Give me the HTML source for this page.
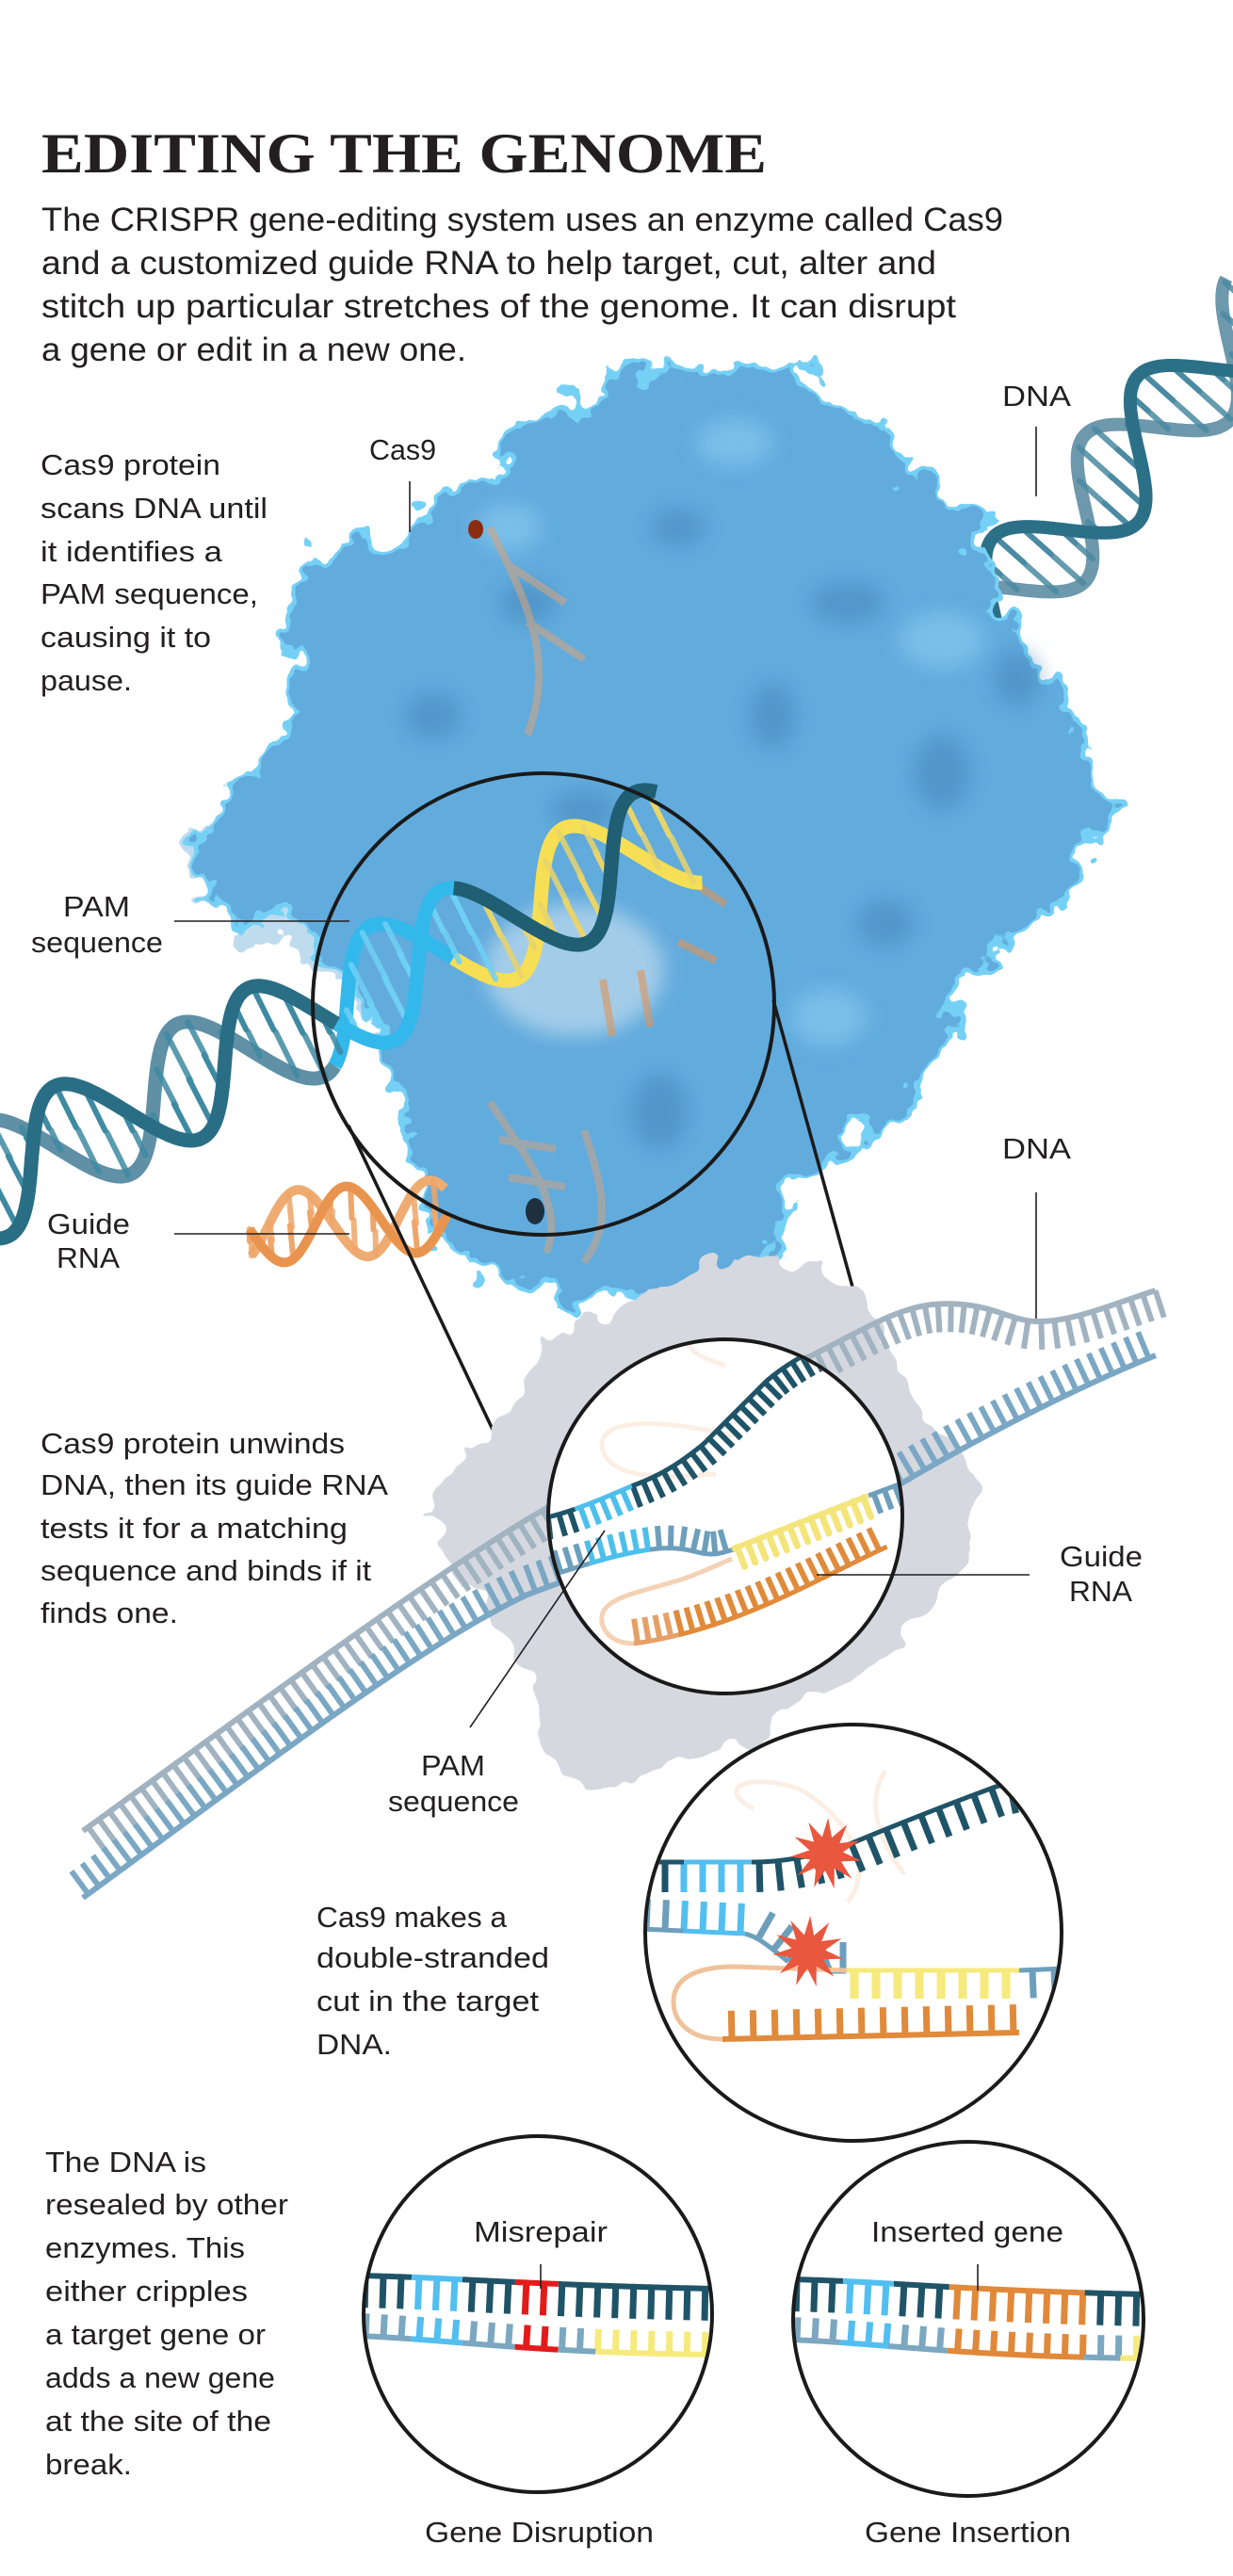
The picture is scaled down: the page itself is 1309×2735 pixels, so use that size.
<!DOCTYPE html>
<html><head><meta charset="utf-8"><style>
html,body{margin:0;padding:0;background:#fff;}
svg{display:block;}
text{font-family:"Liberation Sans",sans-serif;fill:#231f20;}
.t{font-family:"Liberation Serif",serif;font-weight:bold;}
</style></head><body>
<svg id="s" width="1309" height="2735" viewBox="0 0 1309 2735" xmlns="http://www.w3.org/2000/svg">
<defs>
<filter id="bump" x="-10%" y="-10%" width="120%" height="120%">
<feTurbulence type="fractalNoise" baseFrequency="0.025" numOctaves="3" seed="4" result="n"/>
<feDisplacementMap in="SourceGraphic" in2="n" scale="75" xChannelSelector="R" yChannelSelector="G"/>
</filter>
<filter id="bump2" x="-10%" y="-10%" width="120%" height="120%">
<feTurbulence type="fractalNoise" baseFrequency="0.03" numOctaves="2" seed="7" result="n"/>
<feDisplacementMap in="SourceGraphic" in2="n" scale="40" xChannelSelector="R" yChannelSelector="G"/>
</filter>
<filter id="blur8"><feGaussianBlur stdDeviation="10"/></filter>
<clipPath id="c2"><circle cx="770" cy="1610" r="186"/></clipPath>
<clipPath id="c3"><circle cx="906" cy="2052" r="219"/></clipPath>
<clipPath id="c4"><ellipse cx="571" cy="2457" rx="184" ry="188"/></clipPath>
<clipPath id="c5"><ellipse cx="1028" cy="2462" rx="185" ry="187"/></clipPath>
</defs>

<text class="t" x="44" y="183" font-size="60" textLength="770" lengthAdjust="spacingAndGlyphs">EDITING THE GENOME</text>
<g font-size="35">
<text x="44" y="245" textLength="1021" lengthAdjust="spacingAndGlyphs">The CRISPR gene-editing system uses an enzyme called Cas9</text>
<text x="44" y="291" textLength="950" lengthAdjust="spacingAndGlyphs">and a customized guide RNA to help target, cut, alter and</text>
<text x="44" y="337" textLength="971" lengthAdjust="spacingAndGlyphs">stitch up particular stretches of the genome. It can disrupt</text>
<text x="44" y="383" textLength="451" lengthAdjust="spacingAndGlyphs">a gene or edit in a new one.</text>
</g>

<g id="back"></g>

<g id="protein">
<path filter="url(#bump)" fill="#b3d6ec" opacity="0.85" d="M275 814 L200 877 L196 954 L334 986 L400 1081 L340 1020 L260 1000 Z"/>
<path filter="url(#bump)" fill="#62abdd" stroke="#74d0f6" stroke-width="7" d="M643 405 L718 393 L835 386 L885 418 L935 463 L977 520 L1043 546 L1060 648 L1110 699 L1144 775 L1173 852 L1144 941 L1043 1018 L1002 1082 L977 1164 L902 1209 L835 1273 L818 1337 L751 1380 L584 1380 L467 1317 L417 1145 L400 1081 L334 986 L205 950 L210 877 L275 814 L317 750 L300 648 L334 590 L417 571 L467 533 L534 482 L584 444 Z"/>
<g filter="url(#blur8)" fill="#3e7fb3" opacity="0.45">
<ellipse cx="560" cy="640" rx="30" ry="22"/><ellipse cx="720" cy="560" rx="28" ry="20"/>
<ellipse cx="900" cy="640" rx="40" ry="22"/><ellipse cx="1000" cy="820" rx="30" ry="40"/>
<ellipse cx="820" cy="760" rx="25" ry="35"/><ellipse cx="460" cy="760" rx="30" ry="25"/>
<ellipse cx="620" cy="860" rx="35" ry="20"/><ellipse cx="940" cy="980" rx="30" ry="25"/>
<ellipse cx="700" cy="1180" rx="30" ry="40"/><ellipse cx="1080" cy="720" rx="25" ry="30"/>
</g>
<g filter="url(#blur8)" fill="#8fd3f6" opacity="0.5">
<ellipse cx="780" cy="470" rx="40" ry="25"/><ellipse cx="1000" cy="680" rx="45" ry="30"/>
<ellipse cx="540" cy="560" rx="35" ry="25"/><ellipse cx="880" cy="1080" rx="40" ry="30"/>
</g>
<ellipse cx="610" cy="1030" rx="95" ry="70" fill="#cfe3f1" opacity="0.6" filter="url(#blur8)"/>
<path d="M520 560 C560 640 590 700 560 780 M540 600 L600 640 M560 660 L620 700" stroke="#d8a47a" stroke-width="8" fill="none" opacity="0.55"/>
<path d="M520 1170 C560 1230 600 1280 580 1330 M530 1210 L590 1220 M540 1250 L600 1260 M620 1200 C640 1260 650 1300 620 1340" stroke="#d8a47a" stroke-width="8" fill="none" opacity="0.5"/>
<path d="M640 1040 L650 1100 M680 1030 L690 1090 M720 1000 L760 1020 M740 940 L770 960" stroke="#e0955a" stroke-width="8" opacity="0.6"/>
<ellipse cx="505" cy="562" rx="8" ry="10" fill="#8b2b10"/>
<ellipse cx="568" cy="1286" rx="10" ry="14" fill="#1e2f3d"/>
</g>

<g id="front"></g>

<circle cx="577" cy="1066" r="245" fill="none" stroke="#1a1a1a" stroke-width="4"/>
<line x1="370" y1="1195" x2="598" y2="1676" stroke="#1a1a1a" stroke-width="3.5"/>
<line x1="821" y1="1062" x2="953" y2="1540" stroke="#1a1a1a" stroke-width="3.5"/>

<g font-size="31">
<text x="43" y="504" textLength="191" lengthAdjust="spacingAndGlyphs">Cas9 protein</text>
<text x="43" y="550" textLength="241" lengthAdjust="spacingAndGlyphs">scans DNA until</text>
<text x="43" y="596" textLength="193" lengthAdjust="spacingAndGlyphs">it identifies a</text>
<text x="43" y="641" textLength="231" lengthAdjust="spacingAndGlyphs">PAM sequence,</text>
<text x="43" y="687" textLength="181" lengthAdjust="spacingAndGlyphs">causing it to</text>
<text x="43" y="733" textLength="97" lengthAdjust="spacingAndGlyphs">pause.</text>
<text x="392" y="488" textLength="71" lengthAdjust="spacingAndGlyphs">Cas9</text>
<text x="1064" y="431" textLength="73" lengthAdjust="spacingAndGlyphs">DNA</text>
<text x="67" y="973" textLength="71" lengthAdjust="spacingAndGlyphs">PAM</text>
<text x="33" y="1011" textLength="140" lengthAdjust="spacingAndGlyphs">sequence</text>
<text x="50" y="1310" textLength="88" lengthAdjust="spacingAndGlyphs">Guide</text>
<text x="60" y="1346" textLength="67" lengthAdjust="spacingAndGlyphs">RNA</text>
<text x="1064" y="1230" textLength="73" lengthAdjust="spacingAndGlyphs">DNA</text>
</g>
<g stroke="#231f20" stroke-width="1.6">
<line x1="435" y1="511" x2="435" y2="565"/>
<line x1="1100" y1="453" x2="1100" y2="527"/>
<line x1="185" y1="978" x2="371" y2="978"/>
<line x1="185" y1="1310" x2="371" y2="1310"/>
<line x1="1100" y1="1266" x2="1100" y2="1403"/>
</g>

<path filter="url(#bump2)" fill="#d5d8df" d="M584 1418 L634 1398 L710 1362 L776 1332 L868 1342 L918 1378 L952 1454 L993 1505 L1035 1566 L1027 1648 L985 1709 L935 1760 L826 1816 L801 1852 L751 1862 L668 1893 L626 1903 L576 1862 L568 1786 L534 1735 L484 1673 L455 1602 L492 1546 L534 1505 L559 1454 Z"/>
<g id="ladder"></g>
<circle cx="770" cy="1610" r="188" fill="#fff"/>
<g id="in2" clip-path="url(#c2)"></g>
<circle cx="770" cy="1610" r="188" fill="none" stroke="#1a1a1a" stroke-width="4"/>

<g font-size="31">
<text x="43" y="1543" textLength="323" lengthAdjust="spacingAndGlyphs">Cas9 protein unwinds</text>
<text x="43" y="1587" textLength="369" lengthAdjust="spacingAndGlyphs">DNA, then its guide RNA</text>
<text x="43" y="1633" textLength="326" lengthAdjust="spacingAndGlyphs">tests it for a matching</text>
<text x="43" y="1678" textLength="351" lengthAdjust="spacingAndGlyphs">sequence and binds if it</text>
<text x="43" y="1723" textLength="146" lengthAdjust="spacingAndGlyphs">finds one.</text>
<text x="1125" y="1663" textLength="88" lengthAdjust="spacingAndGlyphs">Guide</text>
<text x="1135" y="1700" textLength="67" lengthAdjust="spacingAndGlyphs">RNA</text>
<text x="447" y="1885" textLength="68" lengthAdjust="spacingAndGlyphs">PAM</text>
<text x="412" y="1923" textLength="139" lengthAdjust="spacingAndGlyphs">sequence</text>
<text x="336" y="2046" textLength="202" lengthAdjust="spacingAndGlyphs">Cas9 makes a</text>
<text x="336" y="2089" textLength="247" lengthAdjust="spacingAndGlyphs">double-stranded</text>
<text x="336" y="2135" textLength="236" lengthAdjust="spacingAndGlyphs">cut in the target</text>
<text x="336" y="2181" textLength="80" lengthAdjust="spacingAndGlyphs">DNA.</text>
</g>
<g stroke="#231f20" stroke-width="1.6">
<line x1="867" y1="1672" x2="1093" y2="1672"/>
<line x1="642" y1="1625" x2="499" y2="1834"/>
</g>

<circle cx="906" cy="2052" r="221" fill="#fff"/>
<g id="in3" clip-path="url(#c3)"></g>
<circle cx="906" cy="2052" r="221" fill="none" stroke="#1a1a1a" stroke-width="4"/>

<g id="in4" clip-path="url(#c4)"></g>
<g id="in5" clip-path="url(#c5)"></g>
<ellipse cx="571" cy="2457" rx="185" ry="189" fill="none" stroke="#1a1a1a" stroke-width="4"/>
<ellipse cx="1028" cy="2462" rx="186" ry="188" fill="none" stroke="#1a1a1a" stroke-width="4"/>
<g font-size="31">
<text x="48" y="2306" textLength="171" lengthAdjust="spacingAndGlyphs">The DNA is</text>
<text x="48" y="2351" textLength="258" lengthAdjust="spacingAndGlyphs">resealed by other</text>
<text x="48" y="2397" textLength="212" lengthAdjust="spacingAndGlyphs">enzymes. This</text>
<text x="48" y="2443" textLength="215" lengthAdjust="spacingAndGlyphs">either cripples</text>
<text x="48" y="2489" textLength="234" lengthAdjust="spacingAndGlyphs">a target gene or</text>
<text x="48" y="2535" textLength="244" lengthAdjust="spacingAndGlyphs">adds a new gene</text>
<text x="48" y="2581" textLength="240" lengthAdjust="spacingAndGlyphs">at the site of the</text>
<text x="48" y="2627" textLength="92" lengthAdjust="spacingAndGlyphs">break.</text>
<text x="503" y="2380" textLength="142" lengthAdjust="spacingAndGlyphs">Misrepair</text>
<text x="925" y="2380" textLength="204" lengthAdjust="spacingAndGlyphs">Inserted gene</text>
<text x="451" y="2699" textLength="243" lengthAdjust="spacingAndGlyphs">Gene Disruption</text>
<text x="918" y="2699" textLength="219" lengthAdjust="spacingAndGlyphs">Gene Insertion</text>
</g>
<g stroke="#231f20" stroke-width="1.6">
<line x1="574" y1="2404" x2="574" y2="2430"/>
<line x1="1038" y1="2404" x2="1038" y2="2432"/>
</g>
</svg>
<script>
var NS="http://www.w3.org/2000/svg";
function el(p,t,a){var e=document.createElementNS(NS,t);for(var k in a)e.setAttribute(k,a[k]);p.appendChild(e);return e;}
var svg=document.getElementById('s');
function sample(d,step){var p=el(svg,'path',{d:d,fill:'none'});var L=p.getTotalLength();var pts=[];for(var s=0;s<=L;s+=step){var a=p.getPointAtLength(s),b=p.getPointAtLength(Math.min(L,s+1)),c=p.getPointAtLength(Math.max(0,s-1));var dx=b.x-c.x,dy=b.y-c.y,m=Math.hypot(dx,dy)||1;pts.push({x:a.x,y:a.y,nx:-dy/m,ny:dx/m,s:s});}svg.removeChild(p);return pts;}
function line(g,pts,colFn,w){var cur=null,col=null;for(var i=0;i<pts.length;i++){var c=colFn(pts[i]);if(c!==col){if(cur&&i>0)cur.push(pts[i].x.toFixed(1)+','+pts[i].y.toFixed(1));if(cur)el(g,'polyline',{points:cur.join(' '),fill:'none',stroke:col,'stroke-width':w,'stroke-linejoin':'round'});cur=[];col=c;}cur.push(pts[i].x.toFixed(1)+','+pts[i].y.toFixed(1));}if(cur)el(g,'polyline',{points:cur.join(' '),fill:'none',stroke:col,'stroke-width':w,'stroke-linejoin':'round'});}
function comb(g,d,colFn,len,step,dir,w,rw,opts){opts=opts||{};var pts=sample(d,1);var acc=opts.offset||step/2;for(var i=0;i<pts.length;i++){if(pts[i].s>=acc){var p=pts[i];var c=(opts.rcol||colFn)(p);if(c){var x2=p.x+p.nx*len*dir,y2=p.y+p.ny*len*dir;el(g,'line',{x1:p.x,y1:p.y,x2:x2,y2:y2,stroke:c,'stroke-width':rw,'stroke-linecap':opts.cap||'butt'});}acc+=step;}}line(g,pts,colFn,w);}
function helix(g,ax,ay,bx,by,amp,per,ph,w,c1,c2,rc,rstep){var L=Math.hypot(bx-ax,by-ay),ux=(bx-ax)/L,uy=(by-ay)/L,nx=-uy,ny=ux;var s1=[],s2=[];for(var s=0;s<=L;s+=2){var px=ax+ux*s,py=ay+uy*s;var o1=amp*Math.sin(2*Math.PI*s/per+ph),o2=amp*Math.sin(2*Math.PI*s/per+ph+2.3);s1.push({x:px+nx*o1,y:py+ny*o1,s:s});s2.push({x:px+nx*o2,y:py+ny*o2,s:s});}
line(g,s2,c2,w);var n=Math.round(rstep/2);for(var i=0;i<s1.length;i+=n){var a=s1[i],b=s2[i];var col=rc(a);el(g,'line',{x1:a.x,y1:a.y,x2:(a.x+b.x)/2-1,y2:(a.y+b.y)/2-1,stroke:col,'stroke-width':6,'stroke-linecap':'round'});el(g,'line',{x1:b.x,y1:b.y,x2:(a.x+b.x)/2+1,y2:(a.y+b.y)/2+1,stroke:col,'stroke-width':6,'stroke-linecap':'round',opacity:0.85});}line(g,s1,c1,w);}
var back=document.getElementById('back'),front=document.getElementById('front');
helix(back,990,720,1340,330,52,230,0.5,14,function(){return '#2c7088'},function(){return '#6e98ab'},function(){return '#4a8aa2'},26);
helix(front,-30,1265,720,885,60,230,1.2,15,function(p){return p.x<355?'#2a6e86':(p.x<480?'#33b8ec':'#1f5e73')},function(p){return p.x<355?'#5f90a5':(p.x<480?'#33b8ec':'#f6df55')},function(p){return p.x<355?'#3f8aa3':(p.x<480?'#6fd0f5':'#e9d46a')},26);
helix(front,265,1305,475,1290,38,140,0,10,function(){return '#e8944f'},function(){return '#eeac72'},function(){return '#eea66a'},22);

var lad=document.getElementById('ladder');
comb(lad,"M88 1944 C300 1790 450 1680 560 1613 C660 1555 760 1480 860 1440 C920 1410 950 1390 990 1385 C1050 1380 1070 1403 1102 1403 C1140 1403 1180 1385 1227 1370",function(){return '#a1b3c1'},30,14,1,6,6);
comb(lad,"M88 2015 C300 1860 450 1745 560 1693 C700 1640 850 1600 957 1575 C1050 1520 1150 1470 1227 1439",function(){return '#7aa7c4'},30,14,-1,6,6);

var g2=document.getElementById('in2');
el(g2,'path',{d:'M780 1525 C700 1505 630 1505 640 1540 C650 1570 700 1570 760 1565 M770 1450 C740 1440 720 1430 740 1415',fill:'none',stroke:'#fbefe5','stroke-width':5});
comb(g2,"M520 1690 C560 1680 580 1672 593 1670 C620 1662 660 1648 700 1644 C730 1642 740 1650 755 1650 C765 1650 770 1647 780 1645",function(p){return (p.x>625&&p.x<690)?'#4dbfec':'#6d9fbc'},24,12,-1,5,6);
el(g2,'path',{d:'M673 1745 C645 1745 635 1725 640 1712 C648 1695 680 1690 720 1678 C740 1672 760 1662 777 1655',fill:'none',stroke:'#f3d2b5','stroke-width':5});
comb(g2,"M673 1745 C780 1730 860 1680 942 1642",function(p){return p.x<720?'#e6a066':'#e08a3a'},26,12,-1,5,6,{offset:4});
comb(g2,"M777 1645 L922 1588",function(){return '#f4e57a'},22,12,1,6,7,{cap:'round'});
comb(g2,"M922 1588 L965 1572",function(){return '#6d9fbc'},22,12,1,5,6);
comb(g2,"M540 1615 L585 1610 C600 1606 620 1600 670 1578 C700 1567 720 1555 747 1533 C770 1510 790 1490 813 1467 C830 1452 850 1440 880 1425",function(p){return (p.x>610&&p.x<670)?'#4dbfec':'#1f5468'},24,12,1,5,6);

var g3=document.getElementById('in3');
el(g3,'path',{d:'M940 1880 C920 1910 930 1950 960 1990 M800 1920 C760 1900 790 1880 850 1900 C900 1930 930 1980 900 2020',fill:'none',stroke:'#fbefe5','stroke-width':5});
comb(g3,"M680 1977 L798 1977 C830 1977 857 1972 897 1960 C940 1942 1000 1918 1057 1897 L1090 1890",function(p){return (p.x>725&&p.x<798)?'#52bff0':'#1f5468'},32,20,1,5,7,{offset:6});
comb(g3,"M680 2048 L790 2053 C805 2056 817 2067 837 2083",function(p){return (p.x>725&&p.x<790)?'#52bff0':'#6d9fbc'},32,20,-1,5,7,{offset:6});
el(g3,'path',{d:'M867 2067 L883 2093 L898 2093',fill:'none',stroke:'#6d9fbc','stroke-width':5});
el(g3,'line',{x1:872,y1:2066,x2:880,y2:2093,stroke:'#6d9fbc','stroke-width':7});
el(g3,'line',{x1:895,y1:2062,x2:895,y2:2093,stroke:'#6d9fbc','stroke-width':7});
el(g3,'path',{d:'M767 2165 C730 2165 715 2145 715 2125 C715 2100 740 2088 780 2088 L899 2092',fill:'none',stroke:'#f0c29b','stroke-width':5});
comb(g3,"M767 2165 L1082 2158",function(){return '#e08a3a'},30,23,-1,6,7,{offset:10});
comb(g3,"M899 2092 L1082 2092",function(){return '#f6ea7c'},30,23,1,5,9,{offset:8});
comb(g3,"M1082 2092 L1130 2090",function(){return '#6d9fbc'},30,23,1,5,7,{offset:14});
function star(g,cx,cy,r1,r2,n){var p=[];for(var i=0;i<2*n;i++){var r=i%2?r2:r1,a=Math.PI*i/n+0.2;p.push((cx+r*Math.cos(a)).toFixed(1)+','+(cy+r*Math.sin(a)).toFixed(1));}el(g,'polygon',{points:p.join(' '),fill:'#e8573e'});}
star(g3,877,1968,38,18,11);star(g3,858,2072,38,18,11);

var g4=document.getElementById('in4');
comb(g4,"M380 2416 C480 2418 560 2426 760 2430",function(p){return (p.x>436&&p.x<490)?'#52bff0':(p.x>546&&p.x<592)?'#e31b1b':'#1f5468'},34,19,1,6,7,{offset:8});
comb(g4,"M380 2480 C480 2484 560 2498 760 2500",function(p){return (p.x>436&&p.x<490)?'#52bff0':(p.x>546&&p.x<592)?'#e31b1b':(p.x>632)?'#f6ea7c':'#7ca7c0'},24,19,-1,6,7,{offset:8});
var g5=document.getElementById('in5');
comb(g5,"M838 2420 C940 2422 1020 2432 1220 2436",function(p){return (p.x>894&&p.x<948)?'#52bff0':(p.x>1007&&p.x<1151)?'#e0893a':'#1f5468'},34,19,1,6,7,{offset:8});
comb(g5,"M838 2484 C940 2488 1020 2502 1220 2504",function(p){return (p.x>891&&p.x<942)?'#52bff0':(p.x>1005&&p.x<1150)?'#e0893a':(p.x>1189)?'#f6ea7c':'#7ca7c0'},24,19,-1,6,7,{offset:8});
</script>
</body></html>
